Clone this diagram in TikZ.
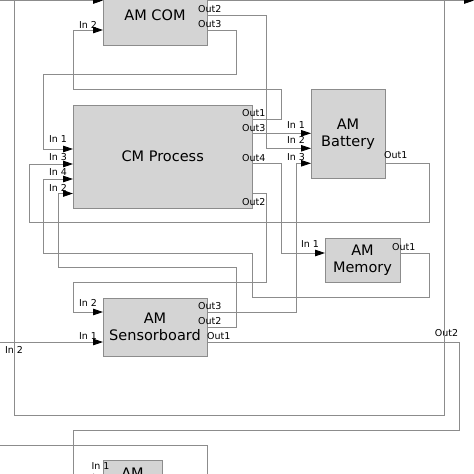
\documentclass[tikz,border=0pt]{standalone}
\usepackage{fontspec}
\setmainfont{DejaVu Sans}
\usetikzlibrary{arrows.meta}
\definecolor{boxfill}{gray}{0.83}
\definecolor{wiregray}{gray}{0.55}
\begin{document}
\begin{tikzpicture}[x=1pt,y=-1pt,
  block/.style={draw=wiregray,fill=boxfill,line width=0.8pt,inner sep=0pt,align=center,font=\fontsize{14.5}{17}\selectfont},
  port/.style={inner sep=0pt,font=\fontsize{9.5}{11}\selectfont},
  wire/.style={draw=wiregray,line width=0.8pt},
  feed/.style={wire,-{Triangle[length=10pt,width=6.5pt,black]}}]
\useasboundingbox (0,0) rectangle (474,474);
\clip (0,0) rectangle (474,474);
\node[block,minimum width=104pt,minimum height=60pt] (com) at (155,15) {AM COM};
\node[block,minimum width=179pt,minimum height=103pt] (cm) at (162.7,156.7) {CM Process};
\node[block,minimum width=74pt,minimum height=88.6pt] (bat) at (348,134) {AM\\Battery};
\node[block,minimum width=75pt,minimum height=44pt] (mem) at (362.5,260) {AM\\Memory};
\node[block,minimum width=104pt,minimum height=58pt] (sb) at (155,327) {AM\\Sensorboard};
\node[block,minimum width=59pt,minimum height=70pt] (am) at (132.5,495) {};
\node[inner sep=0pt,font=\fontsize{14.5}{17}\selectfont] (amtxt) at (132.5,473.5) {AM};
\foreach \b/\n/\x/\y/\dx/\dy in {com/2/103/30/15/5.5, cm/1/73/149/15/9.5, cm/3/73/164/15/6.5,
    cm/4/73/179/15/6.5, cm/2/73/193.5/15/6, bat/1/311/133.3/15/8, bat/2/311/148.3/15/8,
    bat/3/311/163.3/15/6, mem/1/325/253/15/9, sb/2/103/312/15/9.5, sb/1/103/342/15/6,
    am/1/103/477/2.5/11} {
  \coordinate (\b i\n) at (\x,\y);
  \node[port] (\b i\n l) at ([shift={(-\dx,-\dy)}]\b i\n) {In \n};
}
\foreach \b/\n/\x/\y/\lx/\ly in {com/2/207/15/198/9.5, com/3/207/30/198/24.5, cm/1/252/119/242/113,
    cm/3/252/133.3/242/128, cm/4/252/163.3/242/158, cm/2/252/193/242/202, sb/3/207/312/198/306,
    sb/2/207/327/198/321, sb/1/207/342/207/336.5, bat/1/385/163.3/384/155.5, mem/1/400/253/392/247} {
  \coordinate (\b o\n) at (\x,\y);
  \node[port,anchor=west] (\b o\n l) at (\lx,\ly) {Out\n};
}
\coordinate (comi1) at (103,0.5);
\coordinate (como1) at (207,0.5);
\coordinate (topL) at (-2,0.5);
\coordinate (topR) at (474,0.5);
\coordinate (sbinL) at (-2,342);
\coordinate (loopA) at (14,-2);
\coordinate (loopB) at (444,-2);
\coordinate (botL) at (-2,445);
\coordinate (botR) at (207,480);
\node[port] (leftin2) at (14,350) {In 2};
\node[port] (rightout2) at (446.5,333) {Out2};
\draw[feed] (topL) -- (comi1);
\draw[feed] (como1) -- (topR);
\draw[feed] (como2) -| (266,148.3) -- (bati2);
\draw[feed] (como3) -| (236,74) -- (43,74) |- (cmi1);
\draw[feed] (cmo1) -| (281,89) -- (73,89) |- (comi2);
\draw[feed] (cmo3) -- (bati1);
\draw[feed] (cmo4) -| (281,253) -- (memi1);
\draw[feed] (cmo2) -| (266,282) -- (73,282) |- (sbi2);
\draw[feed] (bato1) -| (429,222) -- (29,222) |- (cmi3);
\draw[feed] (memo1) -| (429,297) -| (252,253) -- (43,253) |- (cmi4);
\draw[feed] (sbo3) -| (296,163.3) -- (bati3);
\draw[feed] (sbo2) -| (236,267) -- (58,267) |- (cmi2);
\draw[feed] (sbo1) -| (459,430) -- (73,430) |- (ami1);
\draw[feed] (sbinL) -- (sbi1);
\draw[wire] (loopA) -- (14,415) -| (loopB);
\draw[wire] (botL) -| (botR);
\end{tikzpicture}
\end{document}
